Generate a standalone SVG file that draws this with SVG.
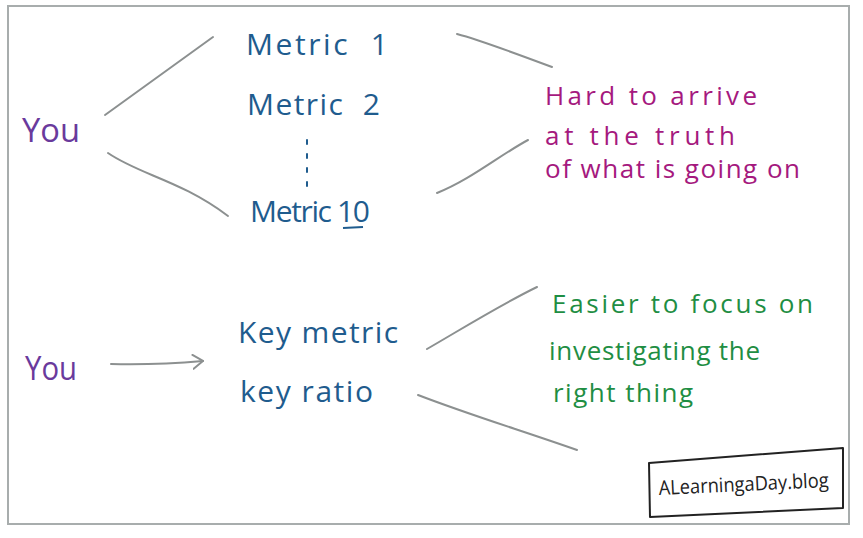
<svg xmlns="http://www.w3.org/2000/svg" width="863" height="538" viewBox="0 0 863 538">
<style>
text{font-family:"Open Sans","Liberation Sans",sans-serif;}
.you{fill:#6a3a9c;font-size:32px;}
.met{fill:#1f5c8e;font-size:30px;}
.mag{fill:#a5197e;font-size:26px;}
.grn{fill:#1f8e43;font-size:26px;}
.blog{fill:#222;font-size:20px;}
.ln{fill:none;stroke:#8c9090;stroke-width:2;stroke-linecap:round;}
</style>
<defs>
<marker id="arr" viewBox="0 0 12 16" refX="11" refY="8" markerWidth="12" markerHeight="16" markerUnits="userSpaceOnUse" orient="auto">
<path d="M1,1 L11,8 L1,15" fill="none" stroke="#8c9090" stroke-width="2" stroke-linecap="round"/>
</marker>
</defs>
<rect x="0" y="0" width="863" height="538" fill="#fff"/>
<rect x="8" y="6" width="841" height="518" fill="#fff" stroke="#a8adad" stroke-width="2"/>
<g id="connectors">
<path class="ln" d="M105,115 L213,37"/>
<path class="ln" d="M108,153 C140,175 180,180 228,216"/>
<path class="ln" d="M457,34 C480,40 520,55 552,67"/>
<path class="ln" d="M437,193 C470,180 500,155 528,140"/>
<path class="ln" d="M111,364 C150,365 180,363 203,361" marker-end="url(#arr)"/>
<path class="ln" d="M427,349 C460,330 500,305 537,287"/>
<path class="ln" d="M418,395 C470,415 520,430 577,450"/>
</g>
<g id="you-top"><text class="you" x="22" y="142" textLength="58" lengthAdjust="spacingAndGlyphs">You</text></g>
<g id="metric-1"><text class="met" x="246" y="55" textLength="142" lengthAdjust="spacing" xml:space="preserve">Metric  1</text></g>
<g id="metric-2"><text class="met" x="247" y="115" textLength="133" lengthAdjust="spacing" xml:space="preserve">Metric  2</text></g>
<g id="dots"><path d="M307,140 L307,190" stroke="#1f5c8e" stroke-width="2" stroke-dasharray="4,10" stroke-linecap="round"/></g>
<g id="metric-10"><text class="met" x="250" y="222" textLength="120" lengthAdjust="spacing">Metric 10</text>
<path d="M343,228 L363,227" stroke="#1f5c8e" stroke-width="2"/></g>
<g id="hard">
<text class="mag" x="545" y="105" textLength="212" lengthAdjust="spacing">Hard to arrive</text>
<text class="mag" x="545" y="145" textLength="190" lengthAdjust="spacing">at the truth</text>
<text class="mag" x="545" y="178" textLength="255" lengthAdjust="spacing">of what is going on</text>
</g>
<g id="you-bottom"><text class="you" x="25" y="380" textLength="52" lengthAdjust="spacingAndGlyphs">You</text></g>
<g id="key">
<text class="met" x="238" y="343" textLength="160" lengthAdjust="spacing">Key metric</text>
<text class="met" x="240" y="402" textLength="133" lengthAdjust="spacing">key ratio</text>
</g>
<g id="easier">
<text class="grn" x="552" y="313" textLength="261" lengthAdjust="spacing">Easier to focus on</text>
<text class="grn" x="549" y="360" textLength="211" lengthAdjust="spacing">investigating the</text>
<text class="grn" x="553" y="402" textLength="140" lengthAdjust="spacing">right thing</text>
</g>
<g id="blog">
<path d="M649,463 L843,448 L843,508 L650,517 Z" fill="#fff" stroke="#222" stroke-width="2" stroke-linejoin="round"/>
<text class="blog" x="659" y="495" textLength="170" lengthAdjust="spacingAndGlyphs" transform="rotate(-2.7 659 495)">ALearningaDay.blog</text>
</g>
</svg>
